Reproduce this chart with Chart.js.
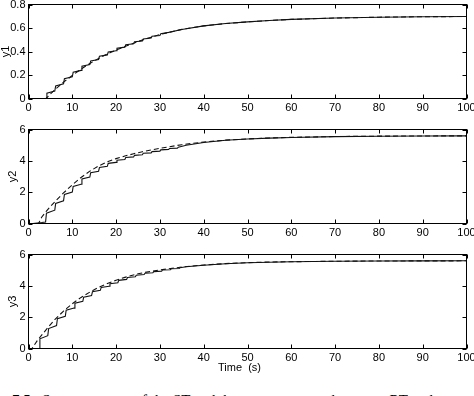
<!DOCTYPE html>
<html>
<head>
<meta charset="utf-8">
<script src="https://cdn.jsdelivr.net/npm/chart.js@4.4.1/dist/chart.umd.min.js"></script>
<style>
  html, body { margin: 0; padding: 0; background: #fff; }
  #wrap { position: relative; width: 474px; height: 396px; overflow: hidden; }
  .panel { position: absolute; left: 0; }
  #xtitle { position: absolute; top: 361px; left: 218px; font: 11px 'Liberation Sans', Arial, sans-serif; color: #000; white-space: pre; }
  #caption { position: absolute; top: 393px; left: 12px; font: 15px 'Liberation Serif', 'Times New Roman', serif; color: #000; white-space: pre; line-height: 15px; }
</style>
</head>
<body>
<div id="wrap">
  <canvas id="c1" class="panel" width="474" height="125" style="top:0px"></canvas>
  <canvas id="c2" class="panel" width="474" height="125" style="top:125px"></canvas>
  <canvas id="c3" class="panel" width="474" height="118" style="top:250px"></canvas>
  <div id="xtitle">Time  (s)</div>
  <div id="caption">7.5.  Step responses of the ST and the same compared to some RT and</div>
</div>
<script>
// x ticks shared by all three panels
const xTicks = [0, 10, 20, 30, 40, 50, 60, 70, 80, 90, 100];
const yTicks1 = [0, 0.2, 0.4, 0.6, 0.8];
const yTicks23 = [0, 2, 4, 6];

// y1
const time1Dash = [0, 4, 5, 6, 8, 10, 12, 14, 16, 18, 20, 22, 25, 28, 30, 35, 40, 45, 50, 55, 60, 70, 80, 90, 100];
const y1Dash = [0, 0, 0.038, 0.074, 0.139, 0.196, 0.250, 0.298, 0.341, 0.379, 0.412, 0.442, 0.485, 0.522, 0.545, 0.588, 0.618, 0.638, 0.652, 0.664, 0.673, 0.685, 0.692, 0.696, 0.698];
const time1Solid = [0, 4, 4.2, 6, 6.2, 8, 8.2, 10, 10.2, 12, 12.2, 14, 14.2, 16, 16.2, 18, 18.2, 20, 20.2, 22, 22.2, 24, 24.2, 26, 26.2, 28, 28.2, 30, 30.2, 32, 35, 40, 45, 50, 55, 60, 70, 80, 90, 100];
const y1Solid = [0, 0, 0.045, 0.064, 0.107, 0.125, 0.168, 0.185, 0.224, 0.239, 0.275, 0.289, 0.320, 0.332, 0.360, 0.371, 0.396, 0.406, 0.428, 0.437, 0.457, 0.465, 0.483, 0.490, 0.507, 0.514, 0.530, 0.536, 0.551, 0.563, 0.587, 0.618, 0.638, 0.652, 0.664, 0.673, 0.685, 0.692, 0.696, 0.698];

// y2
const time2Dash = [0, 2.3, 3, 4, 5, 6, 7, 8, 10, 12, 14, 16, 18, 20, 22, 24, 26, 28, 30, 35, 40, 45, 50, 55, 60, 70, 80, 90, 100];
const y2Dash = [0, 0, 0.40, 0.76, 1.08, 1.38, 1.67, 1.95, 2.47, 2.94, 3.34, 3.67, 3.94, 4.14, 4.31, 4.45, 4.58, 4.69, 4.80, 5.03, 5.20, 5.32, 5.40, 5.46, 5.50, 5.55, 5.575, 5.588, 5.594];
const time2Solid = [0, 1, 2, 3, 3.9, 4.1, 6, 6.2, 8, 8.2, 10, 10.2, 12, 12.2, 14, 14.2, 16, 16.2, 18, 18.2, 20, 20.2, 22, 22.2, 24, 24.2, 26, 26.2, 28, 28.2, 30, 30.2, 32, 32.2, 34, 34.2, 36, 40, 45, 50, 55, 60, 70, 80, 90, 100];
const y2Solid = [0, 0, 0.03, 0.06, 0.1, 0.66, 0.85, 1.28, 1.45, 1.85, 2.01, 2.37, 2.51, 2.84, 2.96, 3.24, 3.34, 3.57, 3.65, 3.84, 3.90, 4.04, 4.09, 4.21, 4.25, 4.35, 4.39, 4.48, 4.51, 4.59, 4.62, 4.70, 4.73, 4.79, 4.81, 4.87, 5.00, 5.17, 5.31, 5.39, 5.45, 5.49, 5.545, 5.572, 5.586, 5.593];

// y3
const time3Dash = [0, 0.8, 2, 3, 4, 5, 6, 8, 10, 12, 14, 16, 18, 20, 22, 25, 28, 30, 35, 40, 45, 50, 55, 60, 70, 80, 90, 100];
const y3Dash = [0, 0, 0.50, 0.85, 1.19, 1.52, 1.84, 2.39, 2.86, 3.26, 3.60, 3.90, 4.15, 4.36, 4.54, 4.77, 4.93, 5.02, 5.20, 5.33, 5.42, 5.48, 5.52, 5.54, 5.57, 5.585, 5.593, 5.597];
const time3Solid = [0, 2.4, 2.6, 4.4, 4.6, 6.4, 6.6, 8.4, 8.6, 10.4, 10.6, 12.4, 12.6, 14.4, 14.6, 16.4, 16.6, 18.4, 18.6, 20.4, 20.6, 22.4, 22.6, 24.4, 24.6, 26.4, 26.6, 28.4, 28.6, 30.4, 30.6, 32.4, 32.6, 34.4, 34.6, 36, 40, 45, 50, 55, 60, 70, 80, 90, 100];
const y3Solid = [0, 0, 0.62, 0.82, 1.27, 1.46, 1.90, 2.06, 2.44, 2.58, 2.89, 3.01, 3.28, 3.38, 3.62, 3.71, 3.90, 3.97, 4.14, 4.20, 4.35, 4.41, 4.53, 4.58, 4.68, 4.72, 4.80, 4.84, 4.91, 4.94, 5.01, 5.03, 5.09, 5.11, 5.16, 5.22, 5.31, 5.41, 5.47, 5.51, 5.54, 5.57, 5.585, 5.593, 5.597];

const FONT = { family: "'Liberation Sans', Arial, sans-serif", size: 11 };

function pairs(xs, ys) {
  return xs.map((x, i) => ({ x: x, y: ys[i] }));
}

// box round the plot with short inward ticks on all four sides
const framePlugin = {
  id: 'frame',
  afterDatasetsDraw(chart) {
    const { ctx, chartArea: a, scales: { x, y } } = chart;
    ctx.save();
    ctx.strokeStyle = '#000';
    ctx.lineWidth = 1;
    ctx.strokeRect(a.left, a.top, a.right - a.left, a.bottom - a.top);
    ctx.beginPath();
    x.ticks.forEach(t => {
      const px = Math.round(x.getPixelForValue(t.value)) + 0.5;
      ctx.moveTo(px, a.bottom); ctx.lineTo(px, a.bottom - 4);
      ctx.moveTo(px, a.top); ctx.lineTo(px, a.top + 4);
    });
    y.ticks.forEach(t => {
      const py = Math.round(y.getPixelForValue(t.value)) + 0.5;
      ctx.moveTo(a.left, py); ctx.lineTo(a.left + 4, py);
      ctx.moveTo(a.right, py); ctx.lineTo(a.right - 4, py);
    });
    ctx.stroke();
    ctx.restore();
  }
};

function makePanel(id, label, solid, dashed, yMax, yTicks, xAxisHeight, titleGap) {
  new Chart(document.getElementById(id), {
    type: 'line',
    data: {
      datasets: [
        {
          data: solid,
          borderColor: '#111',
          borderWidth: 1.1,
          pointRadius: 0,
          tension: 0,
        },
        {
          data: dashed,
          borderColor: '#111',
          borderWidth: 1.1,
          borderDash: [5, 3],
          pointRadius: 0,
          tension: 0,
        },
      ],
    },
    options: {
      responsive: false,
      animation: false,
      layout: { padding: { top: 4.5, right: 7.5, left: 0, bottom: 0 } },
      plugins: { legend: { display: false }, tooltip: { enabled: false } },
      scales: {
        x: {
          type: 'linear',
          min: 0,
          max: 100,
          grid: { display: false, drawTicks: false },
          border: { display: false },
          afterBuildTicks: s => { s.ticks = xTicks.map(v => ({ value: v })); },
          afterFit: s => { s.height = xAxisHeight; s.paddingLeft = 0; s.paddingRight = 0; },
          ticks: { color: '#000', font: FONT, padding: 3, maxRotation: 0, autoSkip: false, callback: v => String(v) },
        },
        y: {
          min: 0,
          max: yMax,
          grid: { display: false, drawTicks: false },
          border: { display: false },
          afterBuildTicks: s => { s.ticks = yTicks.map(v => ({ value: v })); },
          afterFit: s => { s.width = 28.5; s.paddingTop = 0; s.paddingBottom = 0; },
          ticks: { color: '#000', font: FONT, padding: 3, autoSkip: false, callback: v => String(v) },
          title: { display: true, text: label, color: '#000', font: FONT, padding: { top: titleGap, bottom: 0 } },
        },
      },
    },
    plugins: [framePlugin],
  });
}

makePanel('c1', 'y1', pairs(time1Solid, y1Solid), pairs(time1Dash, y1Dash), 0.8, yTicks1, 26.5, -1);
makePanel('c2', 'y2', pairs(time2Solid, y2Solid), pairs(time2Dash, y2Dash), 6, yTicks23, 26.5, 6);
makePanel('c3', 'y3', pairs(time3Solid, y3Solid), pairs(time3Dash, y3Dash), 6, yTicks23, 19.5, 6);
</script>
</body>
</html>
